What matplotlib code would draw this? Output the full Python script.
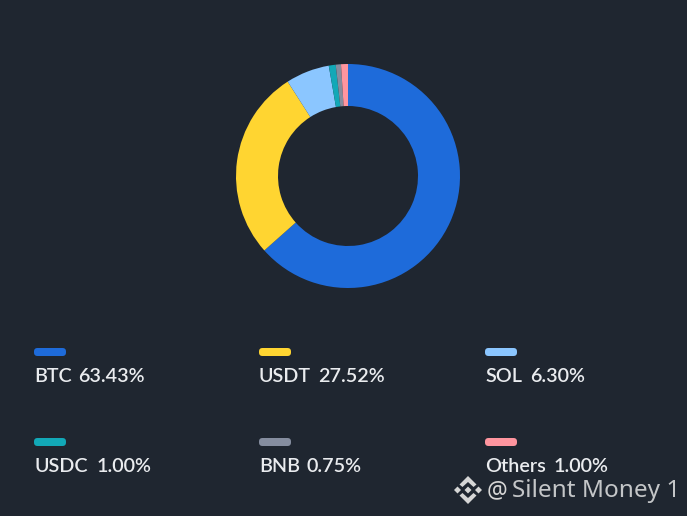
import matplotlib
matplotlib.use("Agg")
import matplotlib.pyplot as plt
from matplotlib.patches import FancyBboxPatch, Polygon

names = ["BTC", "USDT", "SOL", "USDC", "BNB", "Others"]
shares = [63.43, 27.52, 6.30, 1.00, 0.75, 1.00]
value_labels = ["63.43%", "27.52%", "6.30%", "1.00%", "0.75%", "1.00%"]
colors = ["#1E6BDA", "#FFD531", "#8BC6FF", "#12A8B7", "#858D9F", "#FF959F"]

BG = "#1F2630"
W, H = 687, 516

# legend layout, in pixels from top left
legend_x = [34, 259, 485, 34, 259, 485]
value_x = [79, 319, 531, 97, 307, 554]
swatch_y = [352, 352, 352, 442, 442, 442]

plt.rcParams["font.family"] = ["Lato", "DejaVu Sans"]

fig = plt.figure(figsize=(W / 100, H / 100), dpi=100, facecolor=BG)

# donut
cx, cy, r = 348, 176, 112
ax = fig.add_axes([(cx - r) / W, 1 - (cy + r) / H, 2 * r / W, 2 * r / H])
ax.pie(shares, colors=colors, startangle=90, counterclock=False, radius=1,
       wedgeprops=dict(width=42 / 112, linewidth=0))
ax.set_xlim(-1, 1)
ax.set_ylim(-1, 1)

# overlay in pixel coordinates for the legend and watermark
ov = fig.add_axes([0, 0, 1, 1], facecolor="none")
ov.set_xlim(0, W)
ov.set_ylim(H, 0)
ov.axis("off")

for i, name in enumerate(names):
    ov.add_patch(FancyBboxPatch((legend_x[i] + 1, swatch_y[i] - 3), 30, 6,
                                boxstyle="round,pad=1,rounding_size=3.5",
                                lw=0, fc=colors[i]))
    ov.text(legend_x[i], swatch_y[i] + 24, name, color="#EAECEF", fontsize=14.2,
            fontweight="semibold", va="center", ha="left")
    ov.text(value_x[i] - 0.5, swatch_y[i] + 24, value_labels[i], color="#EAECEF", fontsize=14.2,
            fontweight="semibold", va="center", ha="left")

# watermark
logo = "#D6D6D6"
lx, ly = 468, 490
for dx, dy in [(-10.5, 0), (10.5, 0), (0, 0)]:
    s = 3.5
    ov.add_patch(Polygon([(lx + dx, ly + dy - s), (lx + dx + s, ly + dy),
                          (lx + dx, ly + dy + s), (lx + dx - s, ly + dy)],
                         closed=True, fc=logo, ec="none"))
for sign in (-1, 1):
    chevron = [(0, 14), (8.5, 5.5), (5.5, 3), (0, 8), (-5.5, 3), (-8.5, 5.5)]
    ov.add_patch(Polygon([(lx + px, ly + sign * py) for px, py in chevron],
                         closed=True, fc=logo, ec="none"))
ov.text(487, 491, "@", color=logo, fontsize=16.5, family="Noto Sans", va="center", ha="left")
ov.text(512, 491, "Silent Money 1", color="#C4C6C8", fontsize=17.5, family="Noto Sans",
        va="center", ha="left")

fig.savefig("out.png", dpi=100, facecolor=BG)
